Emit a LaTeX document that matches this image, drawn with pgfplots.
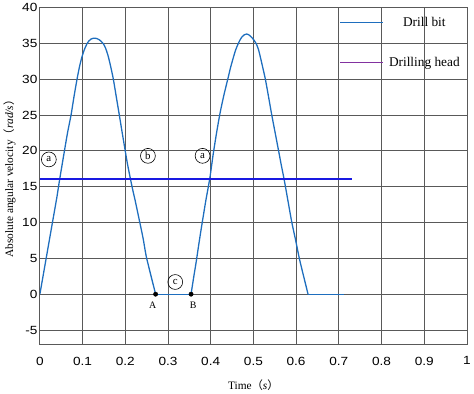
\documentclass[border=0pt]{standalone}
\usepackage{fontspec}
\setmainfont{Liberation Serif}
\newfontfamily\arial[FakeStretch=1.15]{Liberation Sans}
\newfontfamily\cjk{Noto Sans CJK SC}
\usepackage{pgfplots}
\pgfplotsset{compat=1.18}
\definecolor{mblue}{RGB}{30,110,190}
\definecolor{hblue}{RGB}{25,25,225}
\definecolor{hpurple}{RGB}{130,50,160}
\definecolor{gridc}{gray}{0.35}
\begin{document}
\begin{tikzpicture}
\begin{axis}[
  scale only axis, width=431bp, height=340bp,
  xmin=0, xmax=1, ymin=-7, ymax=40,
  xtick={0,0.1,0.2,0.3,0.4,0.5,0.6,0.7,0.8,0.9,1},
  ytick={-5,0,5,10,15,20,25,30,35,40},
  grid=major, major grid style={gridc, line width=0.8bp},
  axis line style={gridc, line width=0.8bp},
  tick style={draw=none},
  ticklabel style={font=\arial\fontsize{12}{13}\selectfont},
  /pgf/number format/assume math mode=true,
  xticklabel style={/pgf/number format/fixed, /pgf/number format/precision=1, yshift=-9bp},
  yticklabel style={xshift=1bp},
  label style={font=\fontsize{11.5}{13}\selectfont},
  xlabel style={yshift=-8bp},
  xlabel={Time{\cjk （}\textit{s}{\cjk ）}},
  ylabel={Absolute angular velocity{\cjk （}\textit{rad/s}{\cjk ）}},
  legend style={draw=none, fill=none, at={(0.695,0.9835)}, anchor=north west,
    row sep=25.5bp, font=\fontsize{13.5}{15}\selectfont},
  legend image code/.code={\draw[mark repeat=2,mark phase=2] plot coordinates {(0bp,0bp) (21.5bp,0bp) (43bp,0bp)};},
  legend cell align=left,
]
\addplot[color=mblue, line width=1.3bp, smooth, tension=0.4] coordinates {
(0.000,0) (0.010,3.4) (0.020,6.8) (0.030,10.2) (0.040,13.6) (0.046,15.9)
(0.0575,20) (0.065,22.6) (0.073,25) (0.080,27.6) (0.087,30) (0.093,31.8)
(0.098,33.0) (0.104,34.1) (0.110,34.9) (0.115,35.35) (0.120,35.6) (0.125,35.7) (0.129,35.72)
(0.134,35.65) (0.139,35.5) (0.144,35.25) (0.149,34.9) (0.154,34.3) (0.160,33.2)
(0.166,31.7) (0.172,30.0) (0.179,27.5) (0.186,25.0) (0.192,22.8) (0.199,20.3)
(0.205,18.2) (0.212,16.1) (0.218,14.4) (0.223,13.1) (0.234,10.0) (0.242,7.7)
(0.249,5.3) (0.260,2.6) (0.271,0)
};
\addlegendentry{\makebox[78bp]{Drill bit}}
\addplot[color=mblue, line width=1.3bp, forget plot] coordinates {(0.271,0) (0.354,0)};
\addplot[color=mblue, line width=1.3bp, smooth, tension=0.4, forget plot] coordinates {
(0.354,0) (0.360,2.3) (0.366,4.5) (0.372,6.9) (0.378,9.2) (0.384,11.4) (0.389,13.2)
(0.398,16.2) (0.406,19.6) (0.414,22.6) (0.422,25.3) (0.431,27.8) (0.440,30.0)
(0.446,31.5) (0.452,32.8) (0.458,34.0) (0.464,34.9) (0.469,35.5) (0.474,35.95)
(0.479,36.2) (0.484,36.3) (0.489,36.2) (0.494,35.95) (0.500,35.55) (0.507,34.9)
(0.512,34.1) (0.517,32.9) (0.522,31.6) (0.528,30.0) (0.535,27.7) (0.543,25.0)
(0.551,22.5) (0.559,20.0) (0.565,18.1) (0.572,16.0) (0.581,13.0) (0.590,10.0)
(0.599,7.5) (0.6075,5.0) (0.618,2.4) (0.628,0)
};
\addplot[color=mblue, line width=1.3bp, forget plot] coordinates {(0.628,0) (0.712,0)};
\addplot[color=hblue, line width=1.3bp, forget plot] coordinates {(0,16.07) (0.730,16.07)};
\addlegendimage{color=hpurple, line width=1.3bp}
\addlegendentry{\makebox[78bp]{Drilling head}}
\addplot[only marks, mark=*, mark size=2.2bp, black, forget plot] coordinates {(0.271,0) (0.354,0)};
\tikzset{ann/.style={circle, draw, line width=0.6bp, inner sep=0pt, minimum size=15bp, font=\fontsize{11}{12}\selectfont}}
\node[ann] at (axis cs:0.021,18.8) {a};
\node[ann] at (axis cs:0.253,19.3) {b};
\node[ann] at (axis cs:0.381,19.3) {a};
\node[ann] at (axis cs:0.317,1.7) {c};
\node[font=\fontsize{10}{11}\selectfont] at (axis cs:0.264,-1.6) {A};
\node[font=\fontsize{10}{11}\selectfont] at (axis cs:0.359,-1.6) {B};
\end{axis}
\end{tikzpicture}
\end{document}
